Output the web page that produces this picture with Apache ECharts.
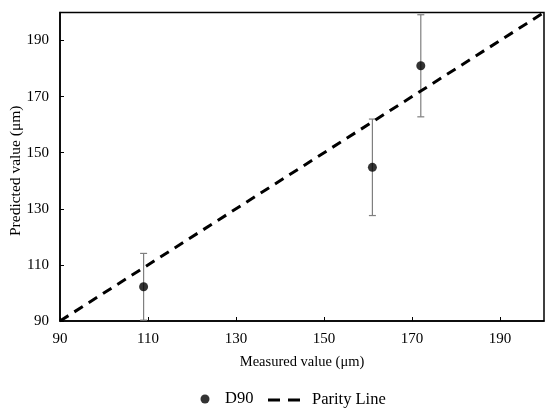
<!DOCTYPE html>
<html>
<head>
<meta charset="utf-8">
<script src="https://cdn.jsdelivr.net/npm/echarts@6/dist/echarts.min.js"></script>
<style>
html,body{margin:0;padding:0;background:#fff;}
#chart{width:550px;height:409px;}
</style>
</head>
<body>
<div id="chart"></div>
<script>
const measured = [109.0, 161.0, 172.0];
const predicted = [102.2, 144.8, 181.0];
const errorHalf = [11.9, 17.2, 18.2];
const parityX = [90, 200];
const parityY = [90, 200];
const tickValues = [90, 110, 130, 150, 170, 190];
const seriesNames = ['D90', 'Parity Line'];
const xTitle = 'Measured value (μm)';
const yTitle = 'Predicted value (μm)';

const FONT = '"Liberation Serif", "Times New Roman", serif';
const chart = echarts.init(document.getElementById('chart'));

const pointData = measured.map((x, i) => [x, predicted[i]]);
const errData = measured.map((x, i) => [x, predicted[i] - errorHalf[i], predicted[i] + errorHalf[i]]);
const lineData = parityX.map((x, i) => [x, parityY[i]]);

function axisCommon() {
  return {
    type: 'value', min: 90, max: 200,
    splitLine: { show: false },
    axisLine: { show: true, lineStyle: { color: '#000', width: 1.5 } },
    axisTick: { show: true, inside: true, length: 4, lineStyle: { color: '#000', width: 1 }, customValues: tickValues },
    axisLabel: { color: '#000', fontFamily: FONT, fontSize: 15, margin: 11, customValues: tickValues },
    nameLocation: 'middle',
    nameMoveOverlap: false
  };
}

const option = {
  animation: false,
  backgroundColor: '#fff',
  grid: { left: 60, right: 6, top: 12.5, bottom: 88, show: true, borderColor: '#000', borderWidth: 1.5, outerBoundsMode: 'none', containLabel: false },
  xAxis: Object.assign(axisCommon(), {
    name: xTitle, nameGap: 34,
    nameTextStyle: { color: '#000', fontFamily: FONT, fontSize: 14.5 }
  }),
  yAxis: Object.assign(axisCommon(), {
    name: yTitle, nameGap: 36,
    nameTextStyle: { color: '#000', fontFamily: FONT, fontSize: 15.5, padding: [0, 8, 0, 0] }
  }),
  legend: [
    {
      data: [{ name: seriesNames[0], icon: 'circle', itemStyle: { color: '#000' } }],
      left: 195.5, top: 385.5, itemWidth: 9, itemHeight: 9,
      textStyle: { color: '#000', fontFamily: FONT, fontSize: 16.5, padding: [0, 0, 0, 10.5] }
    },
    {
      data: [{ name: seriesNames[1], icon: 'path://M0,0 H12 V3 H0 Z M20,0 H32 V3 H20 Z', itemStyle: { color: '#000' } }],
      left: 263, top: 386.5, itemWidth: 32, itemHeight: 3,
      textStyle: { color: '#000', fontFamily: FONT, fontSize: 16.5, padding: [0, 0, 0, 7] }
    }
  ],
  series: [
    {
      type: 'custom', name: 'err', z: 2,
      data: errData,
      encode: { x: 0, y: [1, 2] },
      renderItem: function (params, api) {
        const x = api.value(0);
        const lo = api.coord([x, api.value(1)]);
        const hi = api.coord([x, api.value(2)]);
        const w = 3.5;
        const style = { stroke: '#7f7f7f', lineWidth: 1.2 };
        return {
          type: 'group',
          children: [
            { type: 'line', shape: { x1: lo[0], y1: lo[1], x2: hi[0], y2: hi[1] }, style: style },
            { type: 'line', shape: { x1: lo[0] - w, y1: lo[1], x2: lo[0] + w, y2: lo[1] }, style: style },
            { type: 'line', shape: { x1: hi[0] - w, y1: hi[1], x2: hi[0] + w, y2: hi[1] }, style: style }
          ]
        };
      }
    },
    {
      type: 'scatter', name: seriesNames[0], z: 4,
      data: pointData, symbol: 'circle', symbolSize: 9,
      itemStyle: { color: '#000' }
    },
    {
      type: 'line', name: seriesNames[1], z: 3,
      data: lineData, symbol: 'none',
      itemStyle: { color: '#000' },
      lineStyle: { color: '#000', width: 3, type: [10, 7] }
    }
  ]
};
chart.setOption(option);
</script>
</body>
</html>
